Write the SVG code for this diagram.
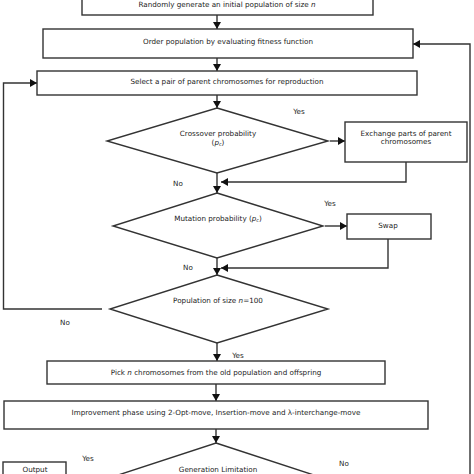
<svg xmlns="http://www.w3.org/2000/svg" width="474" height="474" viewBox="0 0 474 474">
<style>
.box{fill:#fff;stroke:#333;stroke-width:1.4}
.ln{fill:none;stroke:#333;stroke-width:1.4}
text{font-family:"DejaVu Sans",Verdana,sans-serif;font-size:7.2px;fill:#222;text-anchor:middle}
.i{font-style:italic}
.sub{font-size:4.8px}
</style>
<defs>
<marker id="ah" markerWidth="8" markerHeight="8" refX="7" refY="4" orient="auto" markerUnits="userSpaceOnUse">
<path d="M0,0 L7,4 L0,8 Z" fill="#111"/>
</marker>
</defs>
<rect width="474" height="474" fill="#fff"/>
<g id="connectors">
<path class="ln" d="M217,15 V29" marker-end="url(#ah)"/>
<path class="ln" d="M217,58 V71" marker-end="url(#ah)"/>
<path class="ln" d="M217,95 V108" marker-end="url(#ah)"/>
<path class="ln" d="M330,141 H345" marker-end="url(#ah)"/>
<path class="ln" d="M406,162 V182 H221" marker-end="url(#ah)"/>
<path class="ln" d="M217,173 V193" marker-end="url(#ah)"/>
<path class="ln" d="M325,226 H347" marker-end="url(#ah)"/>
<path class="ln" d="M388,239 V268 H221" marker-end="url(#ah)"/>
<path class="ln" d="M217,258 V275" marker-end="url(#ah)"/>
<path class="ln" d="M102,309 H3.5 V83 H37" marker-end="url(#ah)"/>
<path class="ln" d="M217,343 V361" marker-end="url(#ah)"/>
<path class="ln" d="M216,384 V401" marker-end="url(#ah)"/>
<path class="ln" d="M216,429 V443" marker-end="url(#ah)"/>
<path class="ln" d="M470,480 V44 H413" marker-end="url(#ah)"/>
<text x="299" y="113.5">Yes</text>
<text x="178" y="185.5">No</text>
<text x="330" y="205.5">Yes</text>
<text x="188" y="269.5">No</text>
<text x="65" y="324.5">No</text>
<text x="238" y="357.5">Yes</text>
<text x="88" y="460.5">Yes</text>
<text x="344" y="465.5">No</text>
</g>
<g id="init">
<rect class="box" x="82" y="-15" width="291" height="30"/>
<text x="227" y="6.5">Randomly generate an initial population of size <tspan class="i">n</tspan></text>
</g>
<g id="order">
<rect class="box" x="43" y="29" width="370" height="29"/>
<text x="228" y="43.5">Order population by evaluating fitness function</text>
</g>
<g id="select">
<rect class="box" x="37" y="71" width="380" height="24"/>
<text x="227" y="83.5">Select a pair of parent chromosomes for reproduction</text>
</g>
<g id="crossover">
<polygon class="box" points="217,108 328,141 217,173 107,141"/>
<text x="218" y="135.5">Crossover probability</text>
<text x="218" y="145">(<tspan class="i">p</tspan><tspan class="sub" dy="1.2">c</tspan><tspan dy="-1.2">)</tspan></text>
</g>
<g id="exchange">
<rect class="box" x="345" y="122" width="122" height="40"/>
<text x="406" y="135.5">Exchange parts of parent</text>
<text x="406" y="144">chromosomes</text>
</g>
<g id="mutation">
<polygon class="box" points="217,193 323,226 217,258 113,226"/>
<text x="218" y="220.5">Mutation probability (<tspan class="i">p</tspan><tspan class="sub" dy="1.2">c</tspan><tspan dy="-1.2">)</tspan></text>
</g>
<g id="swap">
<rect class="box" x="347" y="214" width="84" height="25"/>
<text x="388" y="228">Swap</text>
</g>
<g id="popsize">
<polygon class="box" points="217,275 328,309 217,343 110,309"/>
<text x="218" y="302.5">Population of size <tspan class="i">n</tspan>=100</text>
</g>
<g id="pick">
<rect class="box" x="47" y="361" width="338" height="23"/>
<text x="216" y="374.5">Pick <tspan class="i">n</tspan> chromosomes from the old population and offspring</text>
</g>
<g id="improve">
<rect class="box" x="4" y="401" width="424" height="28"/>
<text x="216" y="414.5">Improvement phase using 2-Opt-move, Insertion-move and λ-interchange-move</text>
</g>
<g id="generation">
<polygon class="box" points="216,443 326,479 216,515 106,479"/>
<text x="218" y="471.5">Generation Limitation</text>
</g>
<g id="output">
<rect class="box" x="3" y="462" width="63" height="20"/>
<text x="35" y="472">Output</text>
</g>
</svg>
